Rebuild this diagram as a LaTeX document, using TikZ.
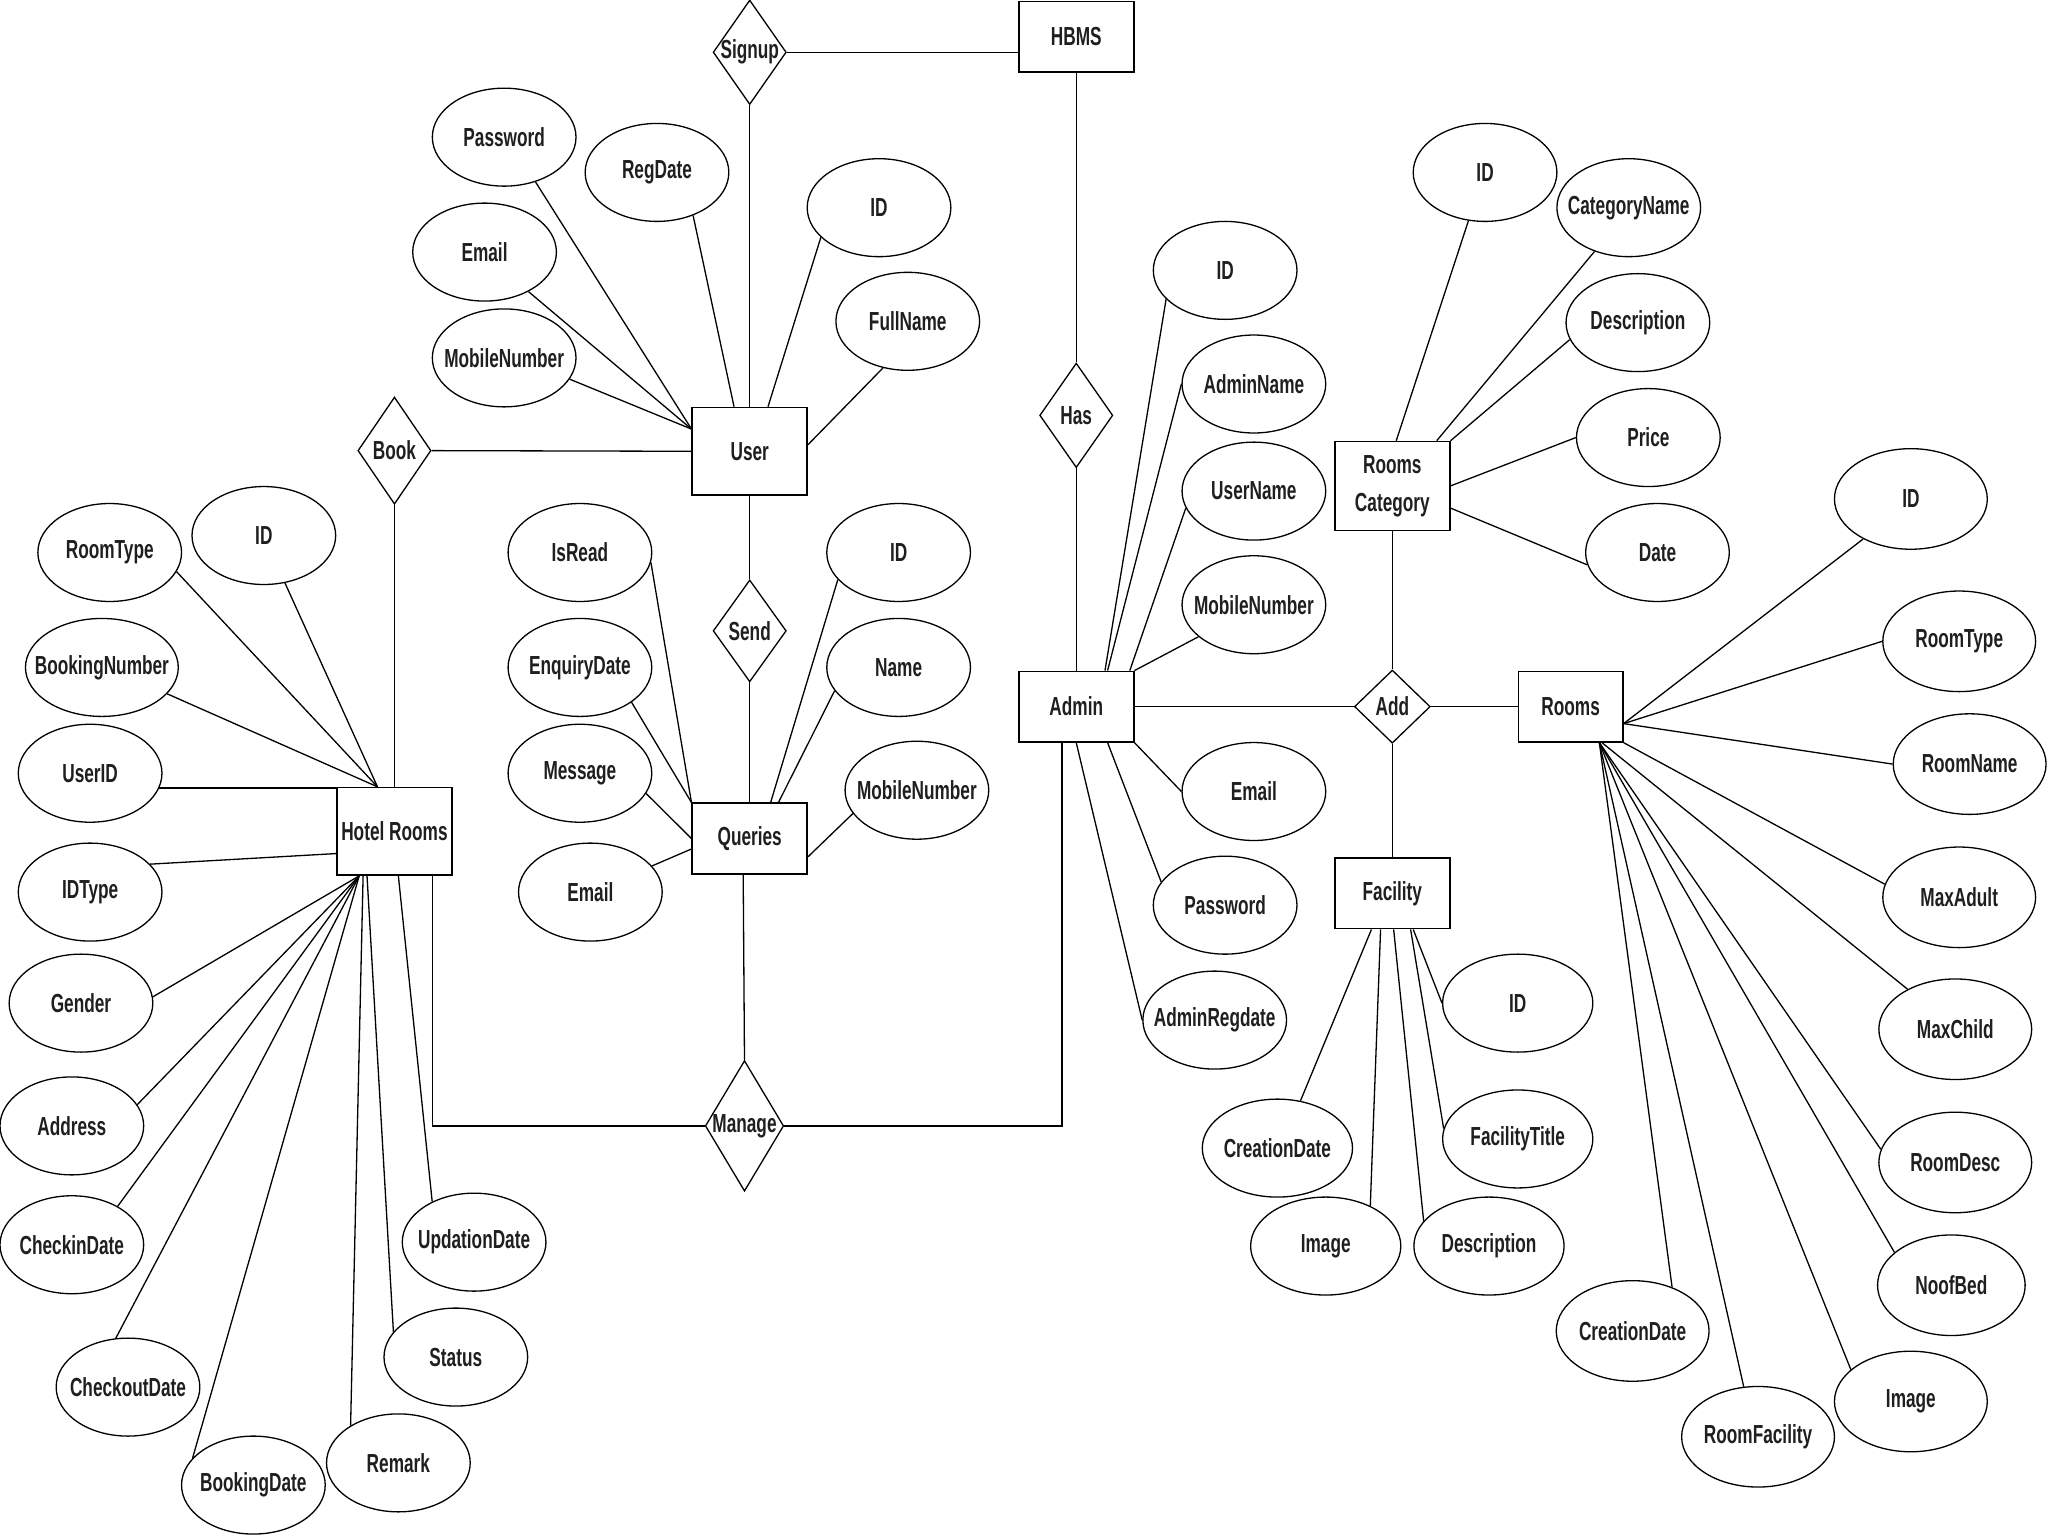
\documentclass[tikz,border=0pt]{standalone}
\usepackage{fontspec}
\setmainfont{Liberation Sans}[FakeStretch=0.66]
\usetikzlibrary{shapes.geometric}
\begin{document}
\begin{tikzpicture}[x=1pt,y=-1pt,
  base/.style={font=\fontsize{20}{24}\selectfont\bfseries, text=black!88},
  ent/.style={base, draw, line width=1.2pt, minimum width=88pt, minimum height=54pt, inner sep=0pt},
  attr/.style={base, draw, ellipse, line width=1pt, minimum width=110pt, minimum height=75pt, inner xsep=-16pt, inner ysep=0pt},
  attrL/.style={attr, minimum width=117pt, minimum height=77pt},
  rel/.style={draw, diamond, line width=1pt, inner sep=0pt},
  ln/.style={line width=1pt}]
\fill[white] (0,0) rectangle (1568,1176);
\useasboundingbox (0,0) rectangle (1568,1176);

% entities
\node[ent] (hbms) at (824,28) {HBMS};
\node[ent, minimum height=67pt] (user) at (574,345.5) {User};
\node[ent, minimum height=67pt] (hr) at (302,636.5) {Hotel Rooms};
\node[ent] (queries) at (574,642) {Queries};
\node[ent] (admin) at (824,541) {Admin};
\node[ent, minimum height=68pt, align=center, font=\fontsize{20}{29}\selectfont\bfseries] (rc) at (1066,372) {Rooms\\Category};
\node[ent, minimum width=80pt] (rooms) at (1202.5,541) {Rooms};
\node[ent] (fac) at (1066,684) {Facility};

% relationships
\node[rel, minimum width=56pt, minimum height=80pt, label={[base]center:Signup}] (signup) at (574,40) {};
\node[rel, minimum width=56pt, minimum height=80pt, label={[base]center:Has}] (has) at (824,318) {};
\node[rel, minimum width=56pt, minimum height=82pt, label={[base]center:Book}] (book) at (302,345) {};
\node[rel, minimum width=56pt, minimum height=78pt, label={[base]center:Send}] (send) at (574,483) {};
\node[rel, minimum width=58pt, minimum height=56pt, label={[base]center:Add}] (add) at (1066,541) {};
\node[rel, minimum width=60pt, minimum height=100pt, label={[base]center:Manage}] (manage) at (570,862) {};

% relationship connectors
\draw[ln] (signup.east) -- ([yshift=-12pt]hbms.west);
\draw[ln] (signup.south) -- (user.north);
\draw[ln] (hbms.south) -- (has.north);
\draw[ln] (has.south) -- (admin.north);
\draw[ln] (book.east) -- (user.west);
\draw[ln] (book.south) -- (hr.north);
\draw[ln] (user.south) -- (send.north);
\draw[ln] (send.south) -- (queries.north);
\draw[ln] ([xshift=-5pt]queries.south) -- (manage.north);
\coordinate (hrM) at ([xshift=29pt]hr.south);
\draw[ln] (hrM) |- (manage.west);
\coordinate (admB) at ([xshift=-11pt]admin.south);
\draw[ln] (manage.east) -| (admB);
\draw[ln] (admin.east) -- (add.west);
\draw[ln] (add.east) -- (rooms.west);
\draw[ln] (rc.south) -- (add.north);
\draw[ln] (add.south) -- (fac.north);

% User attributes
\node[attr] (uPw) at (386,105) {Password};
\node[attr] (uReg) at (503,132) {RegDate};
\node[attr] (uId) at (673,159) {ID};
\node[attr] (uEm) at (371,193) {Email};
\node[attr] (uFn) at (695,246) {FullName};
\node[attr] (uMob) at (386,274) {MobileNumber};
\coordinate (uL) at ([yshift=17pt]user.west);
\draw[ln] (uPw.-55) -- (uL);
\draw[ln] (uEm.-42) -- (uL);
\draw[ln] (uMob.-18) -- (uL);
\draw[ln] (uReg.-50) -- ([xshift=-12pt]user.north);
\draw[ln] (uId.-153) -- ([xshift=14pt]user.north);
\draw[ln] (uFn.-118) -- ([yshift=5pt]user.east);

% Hotel Rooms attributes
\node[attr] (hRt) at (84,423) {RoomType};
\node[attr] (hId) at (202,410) {ID};
\node[attr, minimum width=117pt] (hBn) at (78,511) {BookingNumber};
\node[attr] (hUid) at (69,592) {UserID};
\node[attr] (hIdt) at (69,683) {IDType};
\node[attr] (hGen) at (62,768) {Gender};
\node[attr] (hAdr) at (55,862) {Address};
\node[attr] (hCin) at (55,953) {CheckinDate};
\node[attr] (hCout) at (98,1062) {CheckoutDate};
\node[attr] (hBd) at (194,1137) {BookingDate};
\node[attr] (hRem) at (305,1120) {Remark};
\node[attr] (hSt) at (349,1039) {Status};
\node[attr] (hUpd) at (363,951) {UpdationDate};
\coordinate (hrT) at ([xshift=-13pt]hr.north);
\coordinate (hrB) at ([xshift=-27pt]hr.south);
\draw[ln] (hRt.-16) -- (hrT);
\draw[ln] (hId.-66) -- (hrT);
\draw[ln] (hBn.-22) -- (hrT);
\draw[ln] (hUid.-12) -- (hUid.-12 -| hr.west);
\draw[ln] (hIdt.25) -- ([yshift=-17pt]hr.west);
\draw[ln] (hGen.5) -- (hrB);
\draw[ln] (hAdr.18) -- (hrB);
\draw[ln] (hCin.40) -- (hrB);
\draw[ln] (hCout.104) -- (hrB);
\draw[ln] (hBd.156) -- (hrB);
\draw[ln] (hRem.142) -- ([xshift=-24pt]hr.south);
\draw[ln] (hSt.158) -- ([xshift=-21pt]hr.south);
\draw[ln] (hUpd.136) -- ([xshift=3pt]hr.south);

% Queries attributes
\node[attr] (qIr) at (444,423) {IsRead};
\node[attr] (qId) at (688,423) {ID};
\node[attr] (qEd) at (444,511) {EnquiryDate};
\node[attr] (qNm) at (688,511) {Name};
\node[attr] (qMsg) at (444,592) {Message};
\node[attr] (qMob) at (702,605) {MobileNumber};
\node[attr] (qEm) at (452,683) {Email};
\draw[ln] (qIr.-8) -- (queries.north west);
\draw[ln] (qEd.-34) -- (queries.north west);
\draw[ln] (qMsg.-17) -- (queries.west);
\draw[ln] (qEm.23) -- ([yshift=-8pt]queries.west);
\draw[ln] (qId.204) -- ([xshift=16pt]queries.north);
\draw[ln] (qNm.200) -- ([xshift=22pt]queries.north);
\draw[ln] (qMob.200) -- ([yshift=-14pt]queries.east);

% Admin attributes
\node[attr] (aId) at (938,207) {ID};
\node[attr] (aNm) at (960,294) {AdminName};
\node[attr] (aUn) at (960,376) {UserName};
\node[attr] (aMob) at (960,463) {MobileNumber};
\node[attr] (aEm) at (960,606) {Email};
\node[attr] (aPw) at (938,693) {Password};
\node[attr] (aReg) at (930,781) {AdminRegdate};
\draw[ln] (aId.206) -- ([xshift=22pt]admin.north);
\draw[ln] (aNm.180) -- ([xshift=24pt]admin.north);
\draw[ln] (aUn.194) -- ([xshift=41pt]admin.north);
\draw[ln] (aMob.210) -- (admin.north east);
\draw[ln] (aEm.180) -- (admin.south east);
\draw[ln] (aPw.160) -- ([xshift=24pt]admin.south);
\draw[ln] (aReg.180) -- (admin.south);

% Rooms Category attributes
\node[attr] (cId) at (1137,132) {ID};
\node[attr] (cNm) at (1247,159) {CategoryName};
\node[attr] (cDs) at (1254,247) {Description};
\node[attr] (cPr) at (1262,335) {Price};
\node[attr] (cDt) at (1269,423) {Date};
\draw[ln] (cId.251) -- ([xshift=3pt]rc.north);
\draw[ln] (cNm.232) -- ([xshift=34pt]rc.north);
\draw[ln] (cDs.194) -- (rc.north east);
\draw[ln] (cPr.180) -- (rc.east);
\draw[ln] (cDt.190) -- ([yshift=-17pt]rc.east);

% Rooms attributes
\node[attrL] (rId) at (1463,382) {ID};
\node[attrL] (rRt) at (1500,491) {RoomType};
\node[attrL] (rRn) at (1508,585) {RoomName};
\node[attrL] (rMa) at (1500,687) {MaxAdult};
\node[attrL] (rMc) at (1497,788) {MaxChild};
\node[attrL] (rRd) at (1497,890) {RoomDesc};
\node[attrL, minimum width=113pt] (rNb) at (1494,984) {NoofBed};
\node[attrL] (rImg) at (1463,1073) {Image};
\node[attrL] (rRf) at (1346,1100) {RoomFacility};
\node[attrL] (rCd) at (1250,1019) {CreationDate};
\coordinate (roE) at ([yshift=-13pt]rooms.east);
\coordinate (roB) at ([xshift=22pt]rooms.south);
\draw[ln] (rId.220) -- (roE);
\draw[ln] (rRt.180) -- (roE);
\draw[ln] (rRn.180) -- (roE);
\draw[ln] (rMa.170) -- (rooms.south east);
\draw[ln] (rMc.140) -- ([xshift=24pt]rooms.south);
\draw[ln] (rRd.170) -- (roB);
\draw[ln] (rNb.150) -- (roB);
\draw[ln] (rImg.152) -- (roB);
\draw[ln] (rRf.106) -- (roB);
\draw[ln] (rCd.48) -- (roB);

% Facility attributes
\node[attrL, minimum width=115pt, minimum height=75pt] (fId) at (1162,768) {ID};
\node[attrL, minimum width=115pt, minimum height=75pt] (fCd) at (978,879) {CreationDate};
\node[attrL, minimum width=115pt, minimum height=75pt] (fTt) at (1162,872) {FacilityTitle};
\node[attrL, minimum width=115pt, minimum height=75pt] (fImg) at (1015,954) {Image};
\node[attrL, minimum width=115pt, minimum height=75pt] (fDs) at (1140,954) {Description};
\draw[ln] (fCd.64) -- ([xshift=-16pt]fac.south);
\draw[ln] (fImg.42) -- ([xshift=-9pt]fac.south);
\draw[ln] (fDs.159) -- ([xshift=1pt]fac.south);
\draw[ln] (fTt.172) -- ([xshift=14pt]fac.south);
\draw[ln] (fId.180) -- ([xshift=16pt]fac.south);
\end{tikzpicture}
\end{document}
